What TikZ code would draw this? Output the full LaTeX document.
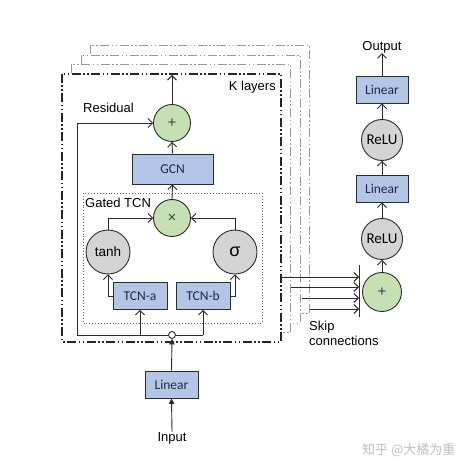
\documentclass[tikz,border=0pt]{standalone}
\usepackage{fontspec}
\setmainfont{Liberation Sans}
\newfontfamily\boxfont{Carlito}
\newfontfamily\cjkfont{Noto Sans CJK SC}
\usetikzlibrary{arrows.meta}
\definecolor{blueF}{HTML}{B4C6E7}
\definecolor{greenF}{HTML}{C6E0B4}
\definecolor{grayF}{HTML}{D4D4D4}
\definecolor{edge}{HTML}{2B2B2B}
\definecolor{boxtext}{HTML}{1F2A44}
\begin{document}
\begin{tikzpicture}[x=1pt,y=-1pt,
  bluebox/.style={draw=edge, fill=blueF, line width=0.9pt, minimum width=54pt, minimum height=27pt, inner sep=0pt, text=boxtext, font=\boxfont\fontsize{13.5}{14}\selectfont},
  greencirc/.style={circle, draw=edge, fill=greenF, line width=0.9pt, minimum size=37pt, inner sep=0pt, text=black!75, font=\fontsize{15}{15}\selectfont},
  graycirc/.style={circle, draw=edge, fill=grayF, line width=0.9pt, minimum size=44pt, inner sep=0pt, font=\fontsize{13.5}{14}\selectfont},
  conn/.style={draw=edge, line width=0.9pt, -{Straight Barb[length=4.5pt,width=9pt]}},
  connF/.style={draw=edge, line width=0.9pt, -{Triangle[length=5.5pt,width=5.5pt]}},
  wire/.style={draw=edge, line width=0.9pt},
  lbl/.style={font=\fontsize{13}{15}\selectfont, inner sep=0pt},
  mainframe/.style={draw=black!85, fill=white, line width=1.3pt, dash pattern=on 9pt off 2.5pt on 1.5pt off 2.5pt on 1.5pt off 2.5pt},
  backframe/.style={draw=black!40, fill=white, line width=0.8pt, dash pattern=on 9pt off 2.5pt on 1.5pt off 2.5pt on 1.5pt off 2.5pt},
  gatedframe/.style={draw=black!60, line width=0.9pt, dotted}
]
\useasboundingbox (0,0) rectangle (474,470);
\fill[white] (0,0) rectangle (474,470);

% stacked layer frames
\foreach \k in {3,2,1}{
  \path[backframe] ({62+9.5*\k},{74-9.5*\k}) rectangle ({281+9.5*\k},{342-9.5*\k});
}
\path[mainframe] (62,74) rectangle (281,342);
\node[lbl, anchor=east] (klayers) at (276,87) {K layers};

% gated TCN frame
\path[gatedframe] (83,193) rectangle (262,323);
\node[lbl, anchor=west] (gated) at (85,203) {Gated TCN};

% nodes of the layer
\node[greencirc] (plusR) at (172,123) {+};
\node[bluebox, minimum width=81pt, minimum height=30pt] (gcn) at (172.5,169) {GCN};
\node[greencirc] (times) at (172,218) {×};
\node[graycirc] (tanh) at (108,252) {tanh};
\node[graycirc, font=\fontsize{18}{18}\selectfont] (sigma) at (235,252) {σ};
\node[bluebox] (tcna) at (140,296) {TCN-a};
\node[bluebox] (tcnb) at (203,296) {TCN-b};
\node[circle, draw=edge, fill=white, line width=0.9pt, minimum size=7pt, inner sep=0pt] (junc) at (172,335) {};
\node[lbl, anchor=west] (resid) at (83,108) {Residual};
\coordinate (ktop) at (172,75);
\coordinate (resL) at (77,335);
\coordinate (busR) at (203,335);

% input
\node[bluebox, minimum width=53pt] (lin0) at (171.5,384.5) {Linear};
\node[lbl] (input) at (172,438) {Input};

% right column
\node[lbl] (output) at (382,47) {Output};
\node[bluebox, minimum width=52pt] (lin2) at (382,89.5) {Linear};
\node[graycirc, minimum size=41pt, font=\boxfont\fontsize{15}{15}\selectfont] (relu2) at (382,140) {ReLU};
\node[bluebox, minimum width=52pt] (lin1) at (382,188.5) {Linear};
\node[graycirc, minimum size=41pt, font=\boxfont\fontsize{15}{15}\selectfont] (relu1) at (382,239) {ReLU};
\node[greencirc, minimum size=39pt] (plusS) at (382,292) {+};
\coordinate (b1) at (359,265);
\coordinate (b2) at (359,317);
\coordinate (s1) at (282,277);
\coordinate (s2) at (291,287);
\coordinate (s3) at (302,298);
\coordinate (s4) at (310,309);
\node[lbl, anchor=north west, align=left] (skip) at (309,321) {Skip\\connections};

% watermark
\node[font=\cjkfont\fontsize{13}{13}\selectfont, text=black!25, anchor=west, inner sep=0pt] (wm) at (362,450) {知乎 @大橘为重};

% connectors inside layer
\draw[conn] (plusR.north) -- (ktop);
\draw[conn] (gcn.north) -- (plusR.south);
\draw[conn] (times.north) -- (gcn.south);
\draw[conn] (tanh.north) |- (times.west);
\draw[conn] (sigma.north) |- (times.east);
\draw[conn] (tcna.west) -| (tanh.south);
\draw[conn] (tcnb.east) -| (sigma.south);
\draw[wire] (junc.west) -- (resL);
\draw[wire] (junc.east) -- (busR);
\draw[conn] (resL) |- (plusR.west);
\draw[conn] (tcna.south |- junc) -- (tcna.south);
\draw[conn] (busR) -- (tcnb.south);
\draw[connF] (lin0.north) -- (junc.south);
\draw[connF] (input.north) -- (lin0.south);

% right column connectors
\draw[conn] (plusS.north) -- (relu1.south);
\draw[conn] (relu1.north) -- (lin1.south);
\draw[conn] (lin1.north) -- (relu2.south);
\draw[conn] (relu2.north) -- (lin2.south);
\draw[conn] (lin2.north) -- (output.south);

% skip connections
\draw[wire] (b1) -- (b2);
\foreach \s in {s1,s2,s3,s4}{
  \draw[conn] (\s) -- (\s -| b1);
}
\end{tikzpicture}
\end{document}
